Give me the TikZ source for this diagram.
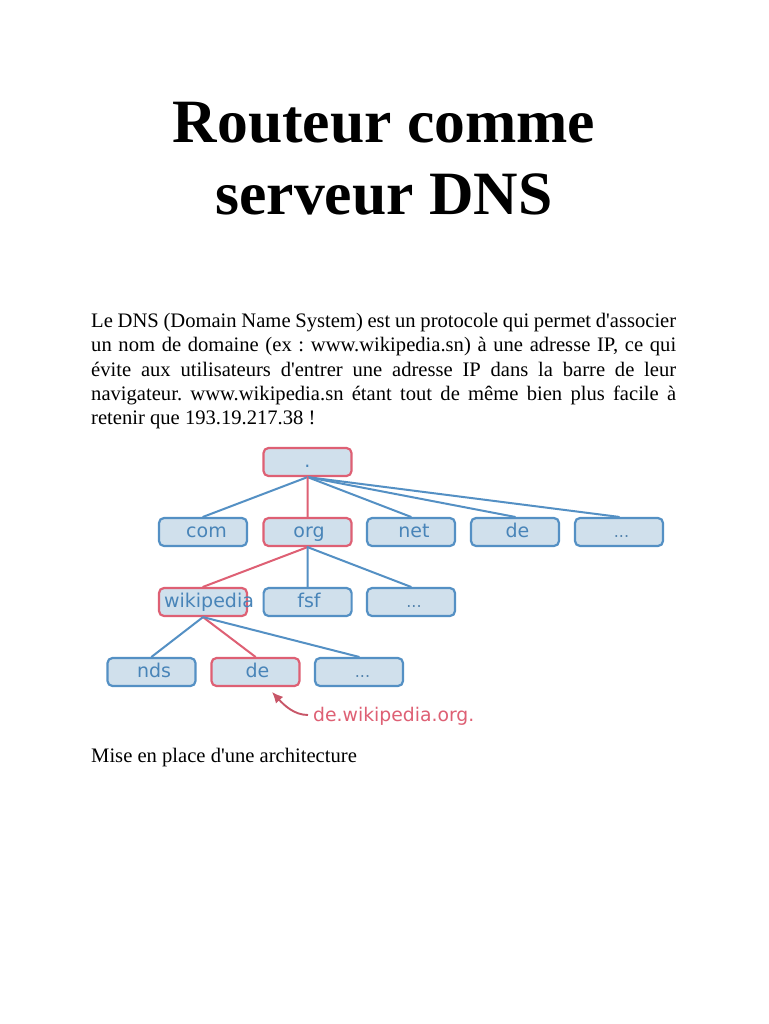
\documentclass[tikz,border=0pt]{standalone}
\usepackage{fontspec}
\setmainfont{Liberation Serif}[Ligatures=TeXOff]
\setsansfont{DejaVu Sans}
\usetikzlibrary{arrows.meta}
\definecolor{bl}{RGB}{84,144,196}
\definecolor{rd}{RGB}{222,96,116}
\definecolor{fillb}{RGB}{208,224,236}
\definecolor{txb}{RGB}{72,132,184}
\tikzset{
  x=1pt,y=-1pt,
  box/.style={draw=bl,fill=fillb,line width=2.2pt,rounded corners=5pt,minimum width=88pt,minimum height=28pt,inner sep=0pt,anchor=center},
  redbox/.style={box,draw=rd},
  lab/.style={text=txb,font=\sffamily\fontsize{19}{19}\selectfont,anchor=base,inner sep=0pt},
  dots/.style={text=txb!80!gray,font=\sffamily\fontsize{16}{16}\selectfont,anchor=base,inner sep=0pt},
  link/.style={draw=bl,line width=2pt,line cap=round},
  redlink/.style={draw=rd,line width=2pt,line cap=round},
  titletext/.style={font=\bfseries\fontsize{61.6}{72}\selectfont,align=center,anchor=center,text=black},
  para/.style={font=\fontsize{20.6}{24.3}\selectfont,text width=585pt,inner sep=0pt,anchor=north west,align=justify,text=black}
}
\begin{document}
\frenchspacing
\begin{tikzpicture}
\useasboundingbox (0,0) rectangle (768,1024);
\fill[white] (0,0) rectangle (768,1024);
\node[titletext] (title) at (384,158.5) {Routeur comme\\serveur DNS};
\node[para] (body) at (91,313) {Le DNS (Domain Name System) est un protocole qui permet d'associer\linebreak
un nom de domaine (ex : www.wikipedia.sn) à une adresse IP, ce qui\linebreak
évite aux utilisateurs d'entrer une adresse IP dans la barre de leur\linebreak
navigateur. www.wikipedia.sn étant tout de même bien plus facile à\linebreak
retenir que 193.19.217.38 !};
\node[redbox] (root) at (307.5,462) {};
\node[box] (com) at (203,532) {};
\node[redbox] (org) at (307.55,532) {};
\node[box] (net) at (411,532) {};
\node[box] (de1) at (515,532) {};
\node[box] (dd1) at (619,532) {};
\node[redbox] (wiki) at (203,602) {};
\node[box] (fsf) at (307.6,602) {};
\node[box] (dd2) at (411,602) {};
\node[box] (nds) at (151.5,672) {};
\node[redbox] (de2) at (255.5,672) {};
\node[box] (dd3) at (359,672) {};
\node[lab] (t0) at (307.5,467) {.};
\node[lab] (t1) at (206.5,537) {com};
\node[lab] (t2) at (309,537) {org};
\node[lab] (t3) at (414,537) {net};
\node[lab] (t4) at (517.5,537) {de};
\node[dots] (t5) at (621.5,537) {...};
\node[lab] (t6) at (209,607) {wikipedia};
\node[lab] (t7) at (309,607) {fsf};
\node[dots] (t8) at (414,607) {...};
\node[lab] (t9) at (154,677) {nds};
\node[lab] (t10) at (257.5,677) {de};
\node[dots] (t11) at (362.5,677) {...};
\draw[link] (root.south) -- (com.north);
\draw[link] (root.south) -- (net.north);
\draw[link] (root.south) -- (de1.north);
\draw[link] (root.south) -- (dd1.north);
\draw[redlink] (root.south) -- (org.north);
\draw[redlink] (org.south) -- (wiki.north);
\draw[link] (org.south) -- (fsf.north);
\draw[link] (org.south) -- (dd2.north);
\draw[link] (wiki.south) -- (nds.north);
\draw[redlink] (wiki.south) -- (de2.north);
\draw[link] (wiki.south) -- (dd3.north);
\node[text=rd,font=\sffamily\fontsize{18.8}{18.8}\selectfont,anchor=base west,inner sep=0pt] (lbl) at (313,721) {de.wikipedia.org.};
\coordinate (tip) at (272,692);
\coordinate (arrstart) at (308,715);
\draw[rd!90!black,line width=1.9pt,-{Latex[length=11pt,width=10pt]}] (arrstart) .. controls (294,715) and (284,705) .. (tip);
\node[para] (cap) at (91,748) {Mise en place d'une architecture};
\end{tikzpicture}
\end{document}
